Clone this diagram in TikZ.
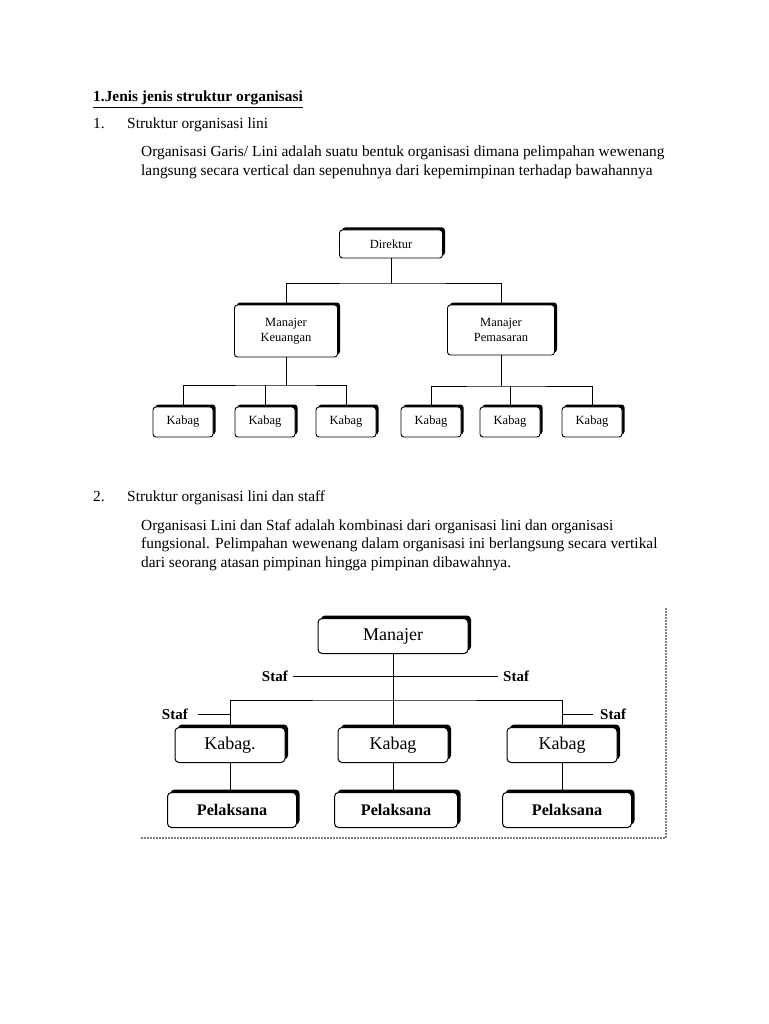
\documentclass[tikz,border=0pt]{standalone}
\usepackage{fontspec}
\setmainfont{Liberation Serif}
\usetikzlibrary{shadows}
\begin{document}
\begin{tikzpicture}[x=1pt,y=-1pt,
  txt/.style={anchor=base west, inner sep=0pt, font=\fontsize{15.4}{18}\selectfont},
  boxa/.style={draw, line width=0.9pt, rounded corners=3pt, fill=white, align=center,
    inner sep=1pt, font=\fontsize{12.5}{15}\selectfont,
    drop shadow={shadow xshift=2.5pt, shadow yshift=2.5pt, fill=black, opacity=1}},
  boxb/.style={draw, line width=1pt, rounded corners=4pt, fill=white, align=center,
    inner sep=1pt, font=\fontsize{18}{21}\selectfont, minimum height=35pt,
    drop shadow={shadow xshift=3pt, shadow yshift=3pt, fill=black, opacity=1}},
  plk/.style={boxb, font=\bfseries\fontsize{16.2}{19}\selectfont},
  lnk/.style={line width=0.8pt},
  staf/.style={inner sep=0pt, font=\bfseries\fontsize{15}{17}\selectfont},
  frame/.style={gray, line width=1.2pt, dash pattern=on 2pt off 1pt}
]
\useasboundingbox (0,0) rectangle (768,1024);
\fill[white] (0,0) rectangle (768,1024);

% ---- texts
\node[txt, font=\bfseries\fontsize{15.4}{18}\selectfont] (title) at (93,102) {\underline{1.Jenis jenis struktur organisasi}};
\node[txt] (n1) at (93,129) {1.};
\node[txt] (s1) at (127,129) {Struktur organisasi lini};
\node[txt] (p11) at (141,157) {Organisasi Garis/ Lini adalah suatu bentuk organisasi dimana pelimpahan wewenang};
\node[txt] (p12) at (141,176) {langsung secara vertical dan sepenuhnya dari kepemimpinan terhadap bawahannya};

\node[txt] (n2) at (93,501) {2.};
\node[txt] (s2) at (127,501) {Struktur organisasi lini dan staff};
\node[txt] (p21) at (141,530) {Organisasi Lini dan Staf adalah kombinasi dari organisasi lini dan organisasi};
\node[txt] (p22) at (141,548) {fungsional. Pelimpahan wewenang dalam organisasi ini berlangsung secara vertikal};
\node[txt] (p23) at (141,567) {dari seorang atasan pimpinan hingga pimpinan dibawahnya.};

% ---- diagram 1
\node[boxa, minimum width=103pt, minimum height=28pt] (dir) at (391,244) {Direktur};
\node[boxa, minimum width=103pt, minimum height=52pt] (mk) at (286,331) {Manajer\\Keuangan};
\node[boxa, minimum width=107pt, minimum height=50pt] (mp) at (501,330) {Manajer\\Pemasaran};
\foreach \n/\x in {k1/183,k2/265,k3/346,k4/431,k5/510,k6/592}
  \node[boxa, minimum width=60pt, minimum height=30pt] (\n) at (\x,422) {Kabag};

\coordinate (j1) at (391,283);
\coordinate (j2) at (286,385);
\coordinate (j3) at (501,386);
\draw[lnk] (dir) -- (j1);
\draw[lnk] (mk.north) |- (j1) -| (mp.north);
\draw[lnk] (mk) -- (j2);
\draw[lnk] (k1.north) |- (j2) -| (k3.north);
\draw[lnk] (k2.north) -- (k2.north |- j2);
\draw[lnk] (mp) -- (j3);
\draw[lnk] (k4.north) |- (j3) -| (k6.north);
\draw[lnk] (k5.north) -- (k5.north |- j3);

% ---- diagram 2
\node[boxb, minimum width=150pt] (man) at (393,636) {Manajer};
\node[boxb, minimum width=110pt] (kb1) at (230,745) {Kabag.};
\node[boxb, minimum width=110pt] (kb2) at (393,745) {Kabag};
\node[boxb, minimum width=110pt] (kb3) at (562,745) {Kabag};
\node[plk, minimum width=129pt] (pl1) at (232,810) {Pelaksana};
\node[plk, minimum width=123pt] (pl2) at (396,810) {Pelaksana};
\node[plk, minimum width=129pt] (pl3) at (567,810) {Pelaksana};

\coordinate (jm) at (393,700);
\draw[lnk] (man) -- (kb2);
\draw[lnk] (kb1.north) |- (jm) -| (kb3.north);
\draw[lnk] (kb1) -- (pl1.north -| kb1.south);
\draw[lnk] (kb2) -- (pl2.north -| kb2.south);
\draw[lnk] (kb3) -- (pl3.north -| kb3.south);

\node[staf, anchor=east] (sf1) at (288,676) {Staf};
\node[staf, anchor=west] (sf2) at (503,676) {Staf};
\node[staf, anchor=east] (sf3) at (188,714) {Staf};
\node[staf, anchor=west] (sf4) at (600,714) {Staf};
\coordinate (c1) at (230,714);
\coordinate (c2) at (562,714);
\draw[lnk] ([xshift=5pt]sf1.east) -- ([xshift=-5pt]sf2.west);
\draw[lnk] ([xshift=10pt]sf3.east) -- (c1);
\draw[lnk] (c2) -- ([xshift=-7pt]sf4.west);

\coordinate (fr1) at (666,608);
\coordinate (fr2) at (666,838);
\coordinate (fr3) at (140,838);
\draw[frame] (fr1) -- (fr2) -- (fr3);
\end{tikzpicture}
\end{document}
